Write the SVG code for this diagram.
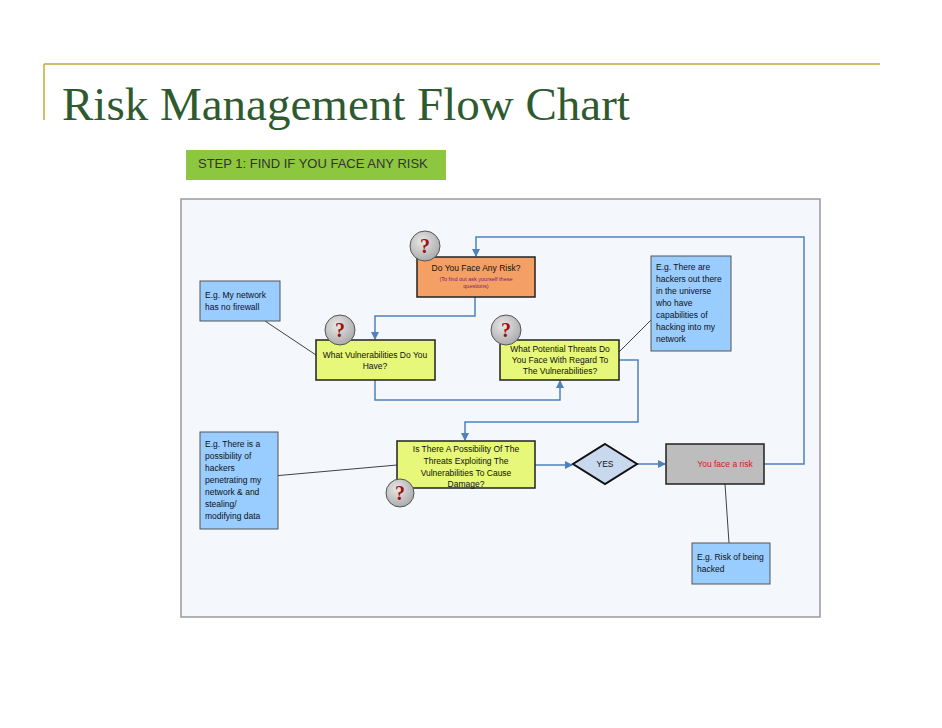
<svg xmlns="http://www.w3.org/2000/svg" width="942" height="728" viewBox="0 0 942 728">
<defs>
<marker id="ah" markerWidth="8" markerHeight="8" refX="7" refY="4" orient="auto" markerUnits="userSpaceOnUse"><path d="M0,0 L8,4 L0,8 z" fill="#4f81bd"/></marker>
<radialGradient id="qg" cx="40%" cy="35%" r="70%"><stop offset="0" stop-color="#e8e8e8"/><stop offset="1" stop-color="#a8a8a8"/></radialGradient>
</defs>
<style>
.box{stroke:#222;stroke-width:1.5}
.note{fill:#99ccff;stroke:#555;stroke-width:1}
.t{font-family:"Liberation Sans",Arial,sans-serif;font-size:8.5px;fill:#111}
.c{text-anchor:middle}
.con{fill:none;stroke:#4f81bd;stroke-width:1.5}
.ln{fill:none;stroke:#111;stroke-width:0.8}
.q{fill:url(#qg);stroke:#555;stroke-width:1}
.qt{font-family:"Liberation Serif",serif;font-weight:bold;font-size:20px;fill:#a01010;text-anchor:middle}
</style>
<rect width="942" height="728" fill="#fff"/>
<path d="M44,64 H880 M44,64 V120" stroke="#c8a838" stroke-width="1.5" fill="none"/>
<text x="62" y="120" font-family="Liberation Serif,serif" font-size="47" fill="#2e5a2e">Risk Management Flow Chart</text>
<rect x="186" y="150" width="260" height="30" fill="#8dc63f"/>
<text x="198" y="168" font-family="Liberation Sans,Arial,sans-serif" font-size="13" fill="#333">STEP 1: FIND IF YOU FACE ANY RISK</text>
<rect x="181" y="199" width="639" height="418" fill="#f4f7fb" stroke="#999" stroke-width="1.5"/>
<g id="connectors">
<path class="con" d="M764,464 H804 V237 H476 V256" marker-end="url(#ah)"/>
<path class="con" d="M475,297 V316 H375 V339" marker-end="url(#ah)"/>
<path class="con" d="M375,380 V400 H560 V381" marker-end="url(#ah)"/>
<path class="con" d="M619,360 H638 V422 H465 V440" marker-end="url(#ah)"/>
<path class="con" d="M535,465 H572" marker-end="url(#ah)"/>
<path class="con" d="M637,464 H665" marker-end="url(#ah)"/>
<path class="ln" d="M265,321 L316,355"/>
<path class="ln" d="M651,320 L619,352"/>
<path class="ln" d="M262,477 L397,465"/>
<path class="ln" d="M725,484 L729,543"/>
</g>
<g id="n-risk"><rect class="box" x="417" y="257" width="118" height="40" fill="#f4a064"/>
<text class="t c" x="476" y="271">Do You Face Any Risk?</text>
<text class="c" x="476" y="281" font-family="Liberation Sans,Arial,sans-serif" font-size="5.5" fill="#7a1a7a">(To find out ask yourself these</text>
<text class="c" x="476" y="288" font-family="Liberation Sans,Arial,sans-serif" font-size="5.5" fill="#7a1a7a">questions)</text>
<circle class="q" cx="425" cy="246" r="15"/><text class="qt" x="425" y="253">?</text></g>
<g id="n-vuln"><rect class="box" x="316" y="340" width="119" height="40" fill="#e6f77a"/>
<text class="t c" x="375" y="358">What Vulnerabilities Do You</text><text class="t c" x="375" y="369">Have?</text>
<circle class="q" cx="340" cy="330" r="15"/><text class="qt" x="340" y="337">?</text></g>
<g id="n-threat"><rect class="box" x="500" y="340" width="119" height="40" fill="#e6f77a"/>
<text class="t c" x="560" y="352">What Potential Threats Do</text><text class="t c" x="560" y="363">You Face With Regard To</text><text class="t c" x="560" y="374">The Vulnerabilities?</text>
<circle class="q" cx="506" cy="330" r="15"/><text class="qt" x="506" y="337">?</text></g>
<g id="n-poss"><rect class="box" x="397" y="441" width="138" height="47" fill="#e6f77a"/>
<text class="t c" x="466" y="452">Is There A Possibility Of The</text><text class="t c" x="466" y="464">Threats Exploiting The</text><text class="t c" x="466" y="476">Vulnerabilities To Cause</text><text class="t c" x="466" y="487">Damage?</text>
<circle class="q" cx="400" cy="493" r="14"/><text class="qt" x="400" y="500">?</text></g>
<g id="n-yes"><path d="M605,444 L637,464 L605,484 L573,464 z" fill="#c8d8ee" stroke="#111" stroke-width="2"/>
<text class="t c" x="605" y="467">YES</text></g>
<g id="n-face"><rect class="box" x="666" y="444" width="98" height="40" fill="#bdbdbd"/>
<text class="c" x="725" y="467" font-family="Liberation Sans,Arial,sans-serif" font-size="8.5" fill="#d02020">You face a risk</text></g>
<g id="note-fw"><rect class="note" x="200" y="281" width="80" height="40"/>
<text class="t" x="205" y="298">E.g. My network</text><text class="t" x="205" y="310">has no firewall</text></g>
<g id="note-hack"><rect class="note" x="651" y="256" width="80" height="95"/>
<text class="t" x="656" y="270">E.g. There are</text><text class="t" x="656" y="282">hackers out there</text><text class="t" x="656" y="294">in the universe</text><text class="t" x="656" y="306">who have</text><text class="t" x="656" y="318">capabilities of</text><text class="t" x="656" y="330">hacking into my</text><text class="t" x="656" y="342">network</text></g>
<g id="note-poss"><rect class="note" x="200" y="432" width="78" height="97"/>
<text class="t" x="205" y="447">E.g. There is a</text><text class="t" x="205" y="459">possibility of</text><text class="t" x="205" y="471">hackers</text><text class="t" x="205" y="483">penetrating my</text><text class="t" x="205" y="495">network &amp; and</text><text class="t" x="205" y="507">stealing/</text><text class="t" x="205" y="519">modifying data</text></g>
<g id="note-hacked"><rect class="note" x="692" y="543" width="78" height="41"/>
<text class="t" x="697" y="560">E.g. Risk of being</text><text class="t" x="697" y="572">hacked</text></g>
</svg>
